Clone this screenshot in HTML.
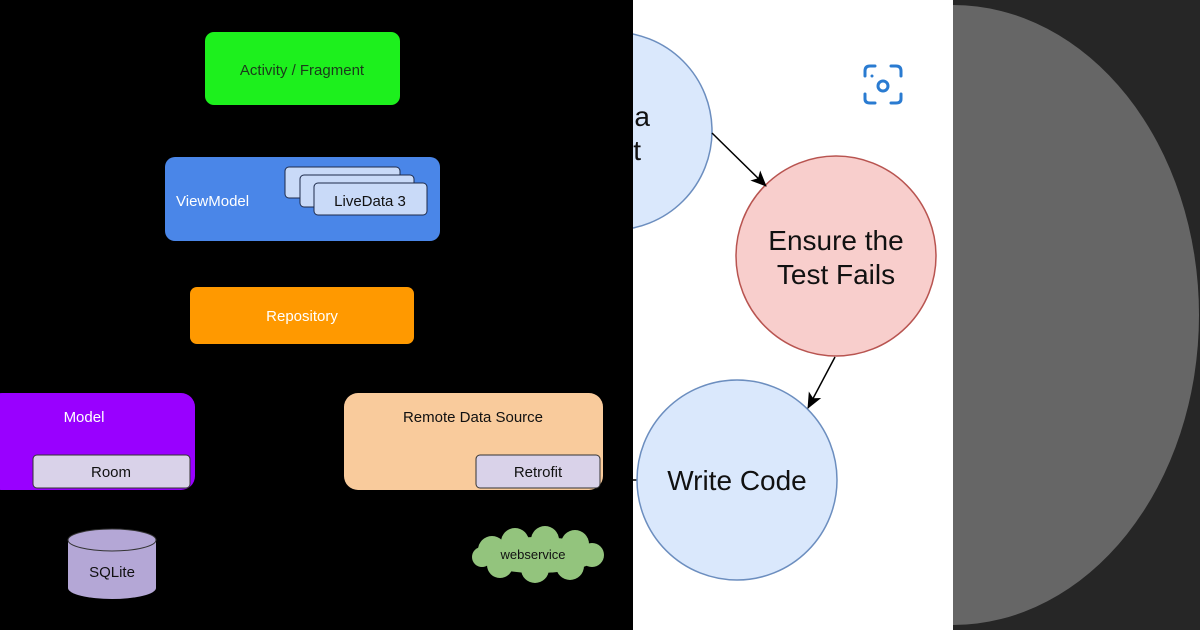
<!DOCTYPE html>
<html><head><meta charset="utf-8"><style>
html,body{margin:0;padding:0;background:#000;}
svg{display:block;}
text{font-family:"Liberation Sans",sans-serif;}
</style></head><body>
<svg width="1200" height="630" viewBox="0 0 1200 630" xmlns="http://www.w3.org/2000/svg">
<rect x="0" y="0" width="633" height="630" fill="#000"/>
<rect x="205" y="32" width="195" height="73" rx="9" fill="#1df01d"/>
<text x="302" y="75" font-size="15" text-anchor="middle" fill="#1b3a1b">Activity / Fragment</text>
<rect x="165" y="157" width="275" height="84" rx="10" fill="#4a86e8"/>
<text x="176" y="206" font-size="15" fill="#fff">ViewModel</text>
<rect x="285" y="167" width="115" height="31" rx="4" fill="#c9daf8" stroke="#1d2a4a" stroke-width="1"/>
<rect x="300" y="175" width="114" height="32" rx="4" fill="#c9daf8" stroke="#1d2a4a" stroke-width="1"/>
<rect x="314" y="183" width="113" height="32" rx="4" fill="#c9daf8" stroke="#1d2a4a" stroke-width="1"/>
<text x="370" y="206" font-size="15" text-anchor="middle" fill="#111">LiveData 3</text>
<rect x="190" y="287" width="224" height="57" rx="7" fill="#ff9900"/>
<text x="302" y="321" font-size="15" text-anchor="middle" fill="#fff">Repository</text>
<rect x="-12" y="393" width="207" height="97" rx="14" fill="#9900ff"/>
<text x="84" y="422" font-size="15" text-anchor="middle" fill="#fff">Model</text>
<rect x="33" y="455" width="157" height="33" rx="4" fill="#d9d2e9" stroke="#333" stroke-width="1"/>
<text x="111" y="477" font-size="15" text-anchor="middle" fill="#111">Room</text>
<rect x="344" y="393" width="259" height="97" rx="14" fill="#f9cb9c"/>
<text x="473" y="422" font-size="15" text-anchor="middle" fill="#111">Remote Data Source</text>
<rect x="476" y="455" width="124" height="33" rx="4" fill="#d9d2e9" stroke="#333" stroke-width="1"/>
<text x="538" y="477" font-size="15" text-anchor="middle" fill="#111">Retrofit</text>
<path d="M68,540 L68,588 A44,11 0 0 0 156,588 L156,540 Z" fill="#b4a7d6"/>
<ellipse cx="112" cy="540" rx="44" ry="11" fill="#b4a7d6" stroke="#333" stroke-width="1"/>
<text x="112" y="577" font-size="15" text-anchor="middle" fill="#111">SQLite</text>
<g fill="#93c47d">
<ellipse cx="537" cy="555" rx="62" ry="18"/>
<circle cx="492" cy="550" r="14"/><circle cx="515" cy="542" r="14"/><circle cx="545" cy="540" r="14"/>
<circle cx="575" cy="544" r="14"/><circle cx="592" cy="555" r="12"/><circle cx="570" cy="566" r="14"/>
<circle cx="535" cy="569" r="14"/><circle cx="500" cy="565" r="13"/><circle cx="482" cy="557" r="10"/>
</g>
<text x="533" y="559" font-size="13" text-anchor="middle" fill="#111">webservice</text>

<rect x="633" y="0" width="320" height="630" fill="#fff"/>
<defs><clipPath id="cw"><rect x="633" y="0" width="320" height="630"/></clipPath>
<marker id="ah" markerWidth="16" markerHeight="16" refX="15" refY="8" orient="auto" markerUnits="userSpaceOnUse"><path d="M0,1 L16,8 L0,15 L4,8 Z" fill="#000"/></marker></defs>
<g clip-path="url(#cw)">
<circle cx="613" cy="131" r="99" fill="#dae8fc" stroke="#6c8ebf" stroke-width="1.5"/>
<text x="650" y="126" font-size="28" text-anchor="end" fill="#111">a</text>
<text x="641" y="160" font-size="28" text-anchor="end" fill="#111">t</text>
<line x1="633" y1="480" x2="637" y2="480" stroke="#000" stroke-width="1.5"/>
</g>
<circle cx="836" cy="256" r="100" fill="#f8cecc" stroke="#b85450" stroke-width="1.5"/>
<text x="836" y="250" font-size="28" text-anchor="middle" fill="#111">Ensure the</text>
<text x="836" y="284" font-size="28" text-anchor="middle" fill="#111">Test Fails</text>
<circle cx="737" cy="480" r="100" fill="#dae8fc" stroke="#6c8ebf" stroke-width="1.5"/>
<text x="737" y="490" font-size="28" text-anchor="middle" fill="#111">Write Code</text>
<line x1="712" y1="133" x2="766" y2="186" stroke="#000" stroke-width="1.5" marker-end="url(#ah)"/>
<line x1="835" y1="357" x2="808" y2="408" stroke="#000" stroke-width="1.5" marker-end="url(#ah)"/>
<g fill="none" stroke="#2a7bd1" stroke-width="3" stroke-linecap="round">
<path d="M865,76 L865,71 Q865,66 870,66 L875,66"/>
<path d="M891,66 L896,66 Q901,66 901,71 L901,76"/>
<path d="M865,94 L865,99 Q865,103 870,103 L875,103"/>
<path d="M891,103 L896,103 Q901,103 901,99 L901,94"/>
<circle cx="883" cy="86" r="5"/>
</g>
<circle cx="872" cy="76" r="1.5" fill="#2a7bd1"/>

<rect x="953" y="0" width="247" height="630" fill="#262626"/>
<defs><clipPath id="cd"><rect x="953" y="0" width="247" height="630"/></clipPath></defs>
<ellipse cx="953" cy="315" rx="246" ry="310" fill="#666" clip-path="url(#cd)"/>
</svg>
</body></html>
